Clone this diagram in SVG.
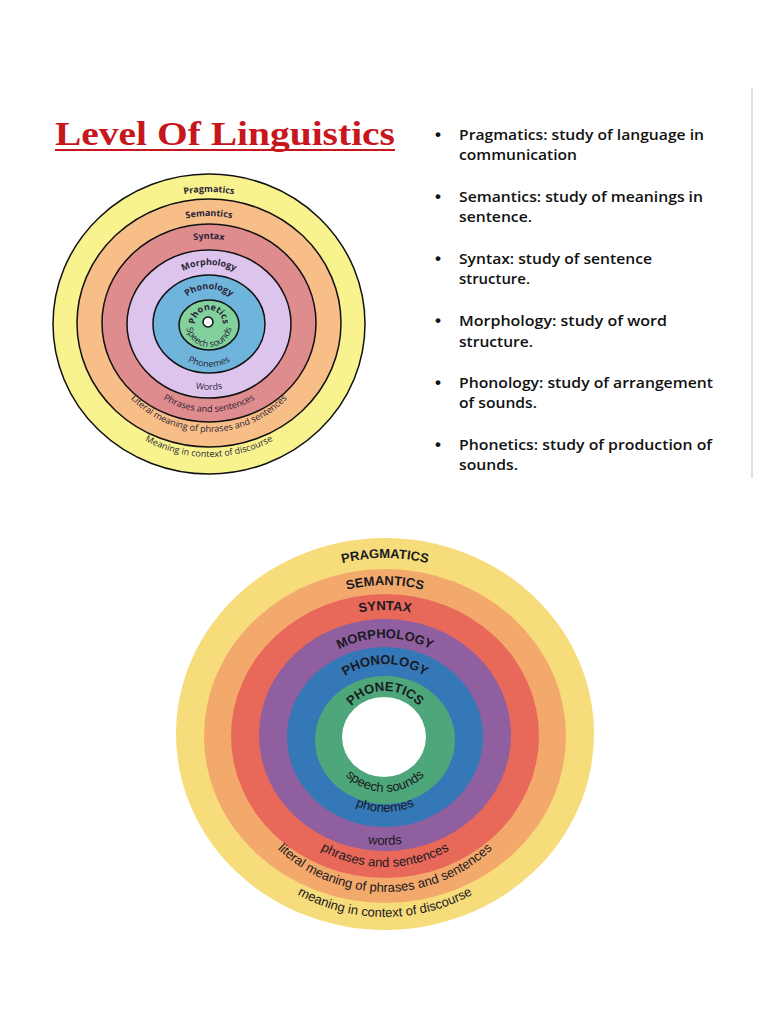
<svg xmlns="http://www.w3.org/2000/svg" xmlns:xlink="http://www.w3.org/1999/xlink" width="768" height="1024" viewBox="0 0 768 1024">
<style>
.t1{font-family:"Open Sans","Liberation Sans",sans-serif;font-weight:700;font-size:9px;fill:#2a2438}
.t1r{font-family:"Open Sans","Liberation Sans",sans-serif;font-size:9px;fill:#2a2438}
.t2{font-family:"Liberation Sans",Arial,sans-serif;font-weight:700;font-size:13px;fill:#1a1a22}
.t2r{font-family:"Liberation Sans",Arial,sans-serif;font-size:13px;fill:#1a1a22}
.bl{font-family:"Open Sans","Liberation Sans",sans-serif;font-weight:600;font-size:15px;fill:#111}
.ring1{stroke:#111;stroke-width:1.5}
</style>
<defs>
<path id="a1" d="M77,324 A132,132 0 0 1 341,324"/>
<path id="a2" d="M101,324 A108,108 0 0 1 317,324"/>
<path id="a3" d="M124,324 A85,85 0 0 1 294,324"/>
<path id="a4" d="M150,324 A59,59 0 0 1 268,324"/>
<path id="a5" d="M174,324 A35,35 0 0 1 244,324"/>
<path id="a6" d="M195,324 A14,14 0 0 1 223,324"/>
<path id="b6" d="M186,324 A23,23 0 0 0 232,324"/>
<path id="b5" d="M166,324 A43,43 0 0 0 252,324"/>
<path id="b4" d="M143,324 A66,66 0 0 0 275,324"/>
<path id="b3" d="M121,324 A88,88 0 0 0 297,324"/>
<path id="b2" d="M101,324 A108,108 0 0 0 317,324"/>
<path id="b1" d="M76,324 A133,133 0 0 0 342,324"/>
<path id="c1" d="M207,736 A178,178 0 0 1 563,736"/>
<path id="c2" d="M234,736 A151,151 0 0 1 536,736"/>
<path id="c3" d="M259,736 A126,126 0 0 1 511,736"/>
<path id="c4" d="M287,736 A98,98 0 0 1 483,736"/>
<path id="c5" d="M313,736 A72,72 0 0 1 457,736"/>
<path id="c6" d="M340,736 A45,45 0 0 1 430,736"/>
<path id="d6" d="M329,736 A56,56 0 0 0 441,736"/>
<path id="d5" d="M309,736 A76,76 0 0 0 461,736"/>
<path id="d4" d="M276,736 A109,109 0 0 0 494,736"/>
<path id="d3" d="M254,736 A131,131 0 0 0 516,736"/>
<path id="d2" d="M229,736 A156,156 0 0 0 541,736"/>
<path id="d1" d="M204,736 A181,181 0 0 0 566,736"/>
</defs>
<rect width="768" height="1024" fill="#fff"/>
<g id="title">
<text x="55" y="145" font-family="'Liberation Serif',serif" font-weight="700" font-size="34" fill="#c8161d" textLength="340" lengthAdjust="spacingAndGlyphs">Level Of Linguistics</text>
<line x1="55" y1="150" x2="395" y2="150" stroke="#c8161d" stroke-width="2"/>
</g>
<g id="circle-top">
<ellipse cx="209" cy="324" rx="156" ry="150" fill="#f8f38e" class="ring1"/>
<ellipse cx="209" cy="323" rx="132" ry="124" fill="#f8be88" class="ring1"/>
<ellipse cx="209" cy="323" rx="107" ry="99" fill="#df8c8e" class="ring1"/>
<ellipse cx="209" cy="324" rx="82" ry="74" fill="#ddc4ec" class="ring1"/>
<ellipse cx="209" cy="324" rx="56" ry="49" fill="#6fb4da" class="ring1"/>
<ellipse cx="209" cy="325" rx="30" ry="25" fill="#82d09c" class="ring1"/>
<circle cx="208" cy="322" r="5" fill="#fff" class="ring1"/>
<text class="t1"><textPath href="#a1" startOffset="50%" text-anchor="middle">Pragmatics</textPath></text>
<text class="t1"><textPath href="#a2" startOffset="50%" text-anchor="middle">Semantics</textPath></text>
<text class="t1"><textPath href="#a3" startOffset="50%" text-anchor="middle">Syntax</textPath></text>
<text class="t1"><textPath href="#a4" startOffset="50%" text-anchor="middle">Morphology</textPath></text>
<text class="t1"><textPath href="#a5" startOffset="50%" text-anchor="middle">Phonology</textPath></text>
<text class="t1" font-size="7.5"><textPath href="#a6" startOffset="50%" text-anchor="middle">Phonetics</textPath></text>
<text class="t1r" font-size="8"><textPath href="#b6" startOffset="50%" text-anchor="middle">Speech sounds</textPath></text>
<text class="t1r" fill="#1f4f80"><textPath href="#b5" startOffset="50%" text-anchor="middle">Phonemes</textPath></text>
<text class="t1r"><textPath href="#b4" startOffset="50%" text-anchor="middle">Words</textPath></text>
<text class="t1r"><textPath href="#b3" startOffset="50%" text-anchor="middle">Phrases and sentences</textPath></text>
<text class="t1r"><textPath href="#b2" startOffset="50%" text-anchor="middle">Literal meaning of phrases and sentences</textPath></text>
<text class="t1r"><textPath href="#b1" startOffset="50%" text-anchor="middle">Meaning in context of discourse</textPath></text>
</g>
<g id="bullets">
<g font-family="'Liberation Sans',sans-serif" font-weight="700" font-size="17" fill="#111"><text x="435" y="140">•</text><text x="435" y="202">•</text><text x="435" y="264">•</text><text x="435" y="326">•</text><text x="435" y="388">•</text><text x="435" y="450">•</text></g>
<text class="bl" x="459" y="140" textLength="245" lengthAdjust="spacingAndGlyphs">Pragmatics: study of language in</text>
<text class="bl" x="459" y="160" textLength="118" lengthAdjust="spacingAndGlyphs">communication</text>
<text class="bl" x="459" y="202" textLength="244" lengthAdjust="spacingAndGlyphs">Semantics: study of meanings in</text>
<text class="bl" x="459" y="222" textLength="73" lengthAdjust="spacingAndGlyphs">sentence.</text>
<text class="bl" x="459" y="264" textLength="193" lengthAdjust="spacingAndGlyphs">Syntax: study of sentence</text>
<text class="bl" x="459" y="284" textLength="71" lengthAdjust="spacingAndGlyphs">structure.</text>
<text class="bl" x="459" y="326" textLength="208" lengthAdjust="spacingAndGlyphs">Morphology: study of word</text>
<text class="bl" x="459" y="347" textLength="74" lengthAdjust="spacingAndGlyphs">structure.</text>
<text class="bl" x="459" y="388" textLength="254" lengthAdjust="spacingAndGlyphs">Phonology: study of arrangement</text>
<text class="bl" x="459" y="408" textLength="78" lengthAdjust="spacingAndGlyphs">of sounds.</text>
<text class="bl" x="459" y="450" textLength="253" lengthAdjust="spacingAndGlyphs">Phonetics: study of production of</text>
<text class="bl" x="459" y="470" textLength="59" lengthAdjust="spacingAndGlyphs">sounds.</text>
<line x1="752" y1="88" x2="752" y2="478" stroke="#d8d8d8" stroke-width="1.5"/>
</g>
<g id="circle-bottom">
<ellipse cx="385" cy="734" rx="209" ry="196" fill="#f6dc7a"/>
<ellipse cx="385" cy="736" rx="181" ry="167" fill="#f4a96c"/>
<ellipse cx="385" cy="736" rx="154" ry="142" fill="#e8685a"/>
<ellipse cx="385" cy="735" rx="126" ry="116" fill="#8f5fa0"/>
<ellipse cx="385" cy="737" rx="98" ry="90" fill="#3478b8"/>
<ellipse cx="385" cy="740" rx="70" ry="64" fill="#4ea77a"/>
<ellipse cx="384" cy="737" rx="42" ry="40" fill="#fff"/>
<text class="t2"><textPath href="#c1" startOffset="50%" text-anchor="middle">PRAGMATICS</textPath></text>
<text class="t2"><textPath href="#c2" startOffset="50%" text-anchor="middle">SEMANTICS</textPath></text>
<text class="t2"><textPath href="#c3" startOffset="50%" text-anchor="middle">SYNTAX</textPath></text>
<text class="t2" font-size="14"><textPath href="#c4" startOffset="50%" text-anchor="middle">MORPHOLOGY</textPath></text>
<text class="t2" font-size="14"><textPath href="#c5" startOffset="50%" text-anchor="middle">PHONOLOGY</textPath></text>
<text class="t2" font-size="14"><textPath href="#c6" startOffset="50%" text-anchor="middle">PHONETICS</textPath></text>
<text class="t2r" font-size="13"><textPath href="#d6" startOffset="50%" text-anchor="middle">speech sounds</textPath></text>
<text class="t2r" font-size="14"><textPath href="#d5" startOffset="50%" text-anchor="middle">phonemes</textPath></text>
<text class="t2r"><textPath href="#d4" startOffset="50%" text-anchor="middle">words</textPath></text>
<text class="t2r"><textPath href="#d3" startOffset="50%" text-anchor="middle">phrases and sentences</textPath></text>
<text class="t2r"><textPath href="#d2" startOffset="50%" text-anchor="middle">literal meaning of phrases and sentences</textPath></text>
<text class="t2r"><textPath href="#d1" startOffset="50%" text-anchor="middle">meaning in context of discourse</textPath></text>
</g>
</svg>
